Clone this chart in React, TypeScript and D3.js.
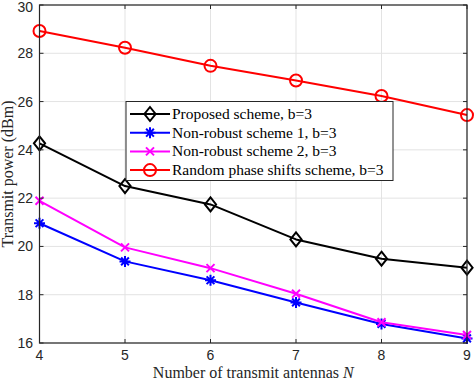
import React from "react";
import * as d3 from "d3";

const antennas = [4, 5, 6, 7, 8, 9];
const proposed = [24.27, 22.5, 21.74, 20.29, 19.49, 19.12];
const nonRobust1 = [20.96, 19.38, 18.6, 17.68, 16.79, 16.19];
const nonRobust2 = [21.89, 19.96, 19.1, 18.04, 16.86, 16.33];
const randomPhase = [28.92, 28.23, 27.48, 26.87, 26.23, 25.44];
const xTicks = [4, 5, 6, 7, 8, 9];
const yTicks = [16, 18, 20, 22, 24, 26, 28, 30];
const seriesNames = [
  "Proposed scheme, b=3",
  "Non-robust scheme 1, b=3",
  "Non-robust scheme 2, b=3",
  "Random phase shifts scheme, b=3",
];

const W = 474, H = 382;
const left = 39.5, right = 467, top = 5, bottom = 343;

type Series = { name: string; values: number[]; color: string; marker: string };

function Marker({ type, x, y, color }: { type: string; x: number; y: number; color: string }) {
  if (type === "diamond") {
    const s = 7;
    return <path d={`M${x},${y - s}L${x + s * 0.8},${y}L${x},${y + s}L${x - s * 0.8},${y}Z`} fill="none" stroke={color} strokeWidth={2} />;
  }
  if (type === "circle") {
    return <circle cx={x} cy={y} r={6} fill="none" stroke={color} strokeWidth={2} />;
  }
  if (type === "star") {
    const s = 5.5, d = s * 0.707;
    return (
      <path d={`M${x - s},${y}L${x + s},${y}M${x},${y - s}L${x},${y + s}M${x - d},${y - d}L${x + d},${y + d}M${x - d},${y + d}L${x + d},${y - d}`} stroke={color} strokeWidth={2} />
    );
  }
  const s = 4;
  return <path d={`M${x - s},${y - s}L${x + s},${y + s}M${x - s},${y + s}L${x + s},${y - s}`} stroke={color} strokeWidth={2} />;
}

export default function App() {
  const x = d3.scaleLinear().domain([4, 9]).range([left, right]);
  const y = d3.scaleLinear().domain([16, 30]).range([bottom, top]);
  const series: Series[] = [
    { name: seriesNames[0], values: proposed, color: "#000000", marker: "diamond" },
    { name: seriesNames[1], values: nonRobust1, color: "#0000ff", marker: "star" },
    { name: seriesNames[2], values: nonRobust2, color: "#ff00ff", marker: "x" },
    { name: seriesNames[3], values: randomPhase, color: "#ff0000", marker: "circle" },
  ];
  const line = d3.line<number>().x((_, i) => x(antennas[i])).y((d) => y(d));
  const axisColor = "#262626";
  const gridColor = "#e3e3e3";
  const lgX = 126, lgY = 101.5, lgW = 267, lgH = 79;
  return (
    <svg width={W} height={H} style={{ position: "absolute", left: 0, top: 0, background: "#fff" }}>
      <rect x={0} y={0} width={W} height={H} fill="#fff" />
      {xTicks.map((t) => (
        <line key={"gx" + t} x1={x(t)} x2={x(t)} y1={top} y2={bottom} stroke={gridColor} strokeWidth={1} />
      ))}
      {yTicks.map((t) => (
        <line key={"gy" + t} x1={left} x2={right} y1={y(t)} y2={y(t)} stroke={gridColor} strokeWidth={1} />
      ))}
      {series.map((s) => (
        <g key={s.name}>
          <path d={line(s.values) || ""} fill="none" stroke={s.color} strokeWidth={2} strokeLinejoin="round" />
          {s.values.map((v, i) => (
            <Marker key={i} type={s.marker} x={x(antennas[i])} y={y(v)} color={s.color} />
          ))}
        </g>
      ))}
      <rect x={left} y={top} width={right - left} height={bottom - top} fill="none" stroke={axisColor} strokeWidth={1.2} />
      {xTicks.map((t) => (
        <g key={"tx" + t}>
          <line x1={x(t)} x2={x(t)} y1={bottom} y2={bottom - 4} stroke={axisColor} />
          <line x1={x(t)} x2={x(t)} y1={top} y2={top + 4} stroke={axisColor} />
          <text x={x(t)} y={360} textAnchor="middle" fontFamily="Liberation Sans, Arial, sans-serif" fontSize={14} fill={axisColor}>{t}</text>
        </g>
      ))}
      {yTicks.map((t) => (
        <g key={"ty" + t}>
          <line x1={left} x2={left + 4} y1={y(t)} y2={y(t)} stroke={axisColor} />
          <line x1={right} x2={right - 4} y1={y(t)} y2={y(t)} stroke={axisColor} />
          <text x={33} y={Math.max(y(t) + 5, 12)} textAnchor="end" fontFamily="Liberation Sans, Arial, sans-serif" fontSize={14} fill={axisColor}>{t}</text>
        </g>
      ))}
      <text x={(left + right) / 2} y={378} textAnchor="middle" fontFamily="Liberation Serif, Times New Roman, serif" fontSize={16} fill={axisColor}>
        Number of transmit antennas <tspan fontStyle="italic">N</tspan>
      </text>
      <text transform={`translate(13,${(top + bottom) / 2}) rotate(-90)`} textAnchor="middle" fontFamily="Liberation Serif, Times New Roman, serif" fontSize={16} fill={axisColor}>
        Transmit power (dBm)
      </text>
      <rect x={lgX} y={lgY} width={lgW} height={lgH} fill="#fff" stroke={axisColor} strokeWidth={1} />
      {series.map((s, i) => {
        const cy = 114 + i * 18.7;
        return (
          <g key={"lg" + i}>
            <line x1={130} x2={170} y1={cy} y2={cy} stroke={s.color} strokeWidth={2} />
            <Marker type={s.marker} x={150} y={cy} color={s.color} />
            <text x={172} y={cy + 5} fontFamily="Liberation Serif, Times New Roman, serif" fontSize={15.5} fill="#000">{s.name}</text>
          </g>
        );
      })}
    </svg>
  );
}
